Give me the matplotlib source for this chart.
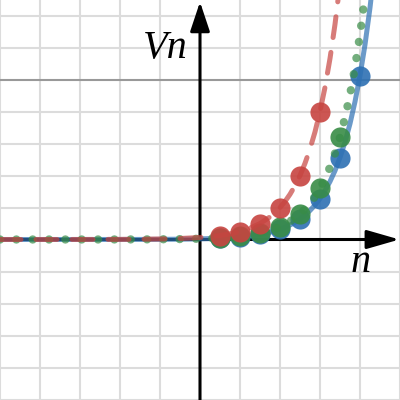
import matplotlib
matplotlib.use("Agg")
import matplotlib.pyplot as plt

# sequence terms (n, Vn)
n_blue = [1, 2, 3, 4, 5, 6, 7, 8]
v_blue = [0.64, 1.28, 2.56, 5.12, 10.24, 20.5, 41.0, 82.0]
n_green = [1, 2, 3, 4, 5, 6, 7]
v_green = [0.8, 1.6, 3.2, 6.4, 12.8, 25.6, 51.2]
n_red = [1, 2, 3, 4, 5, 6]
v_red = [2, 4, 8, 16, 32, 64]

# continuous curves, sampled along the x axis
x_curve = [-10, -6, -4, -3, -2, -1, 0, 0.5, 1, 1.5, 2, 2.5, 3, 3.5, 4, 4.25, 4.5,
           4.75, 5, 5.25, 5.5, 5.75, 6, 6.25, 6.5, 6.75, 7, 7.25, 7.5, 7.75, 8,
           8.25, 8.5, 8.75]
y_blue = [0.0003, 0.005, 0.02, 0.04, 0.08, 0.16, 0.32, 0.45, 0.64, 0.9, 1.28, 1.81,
          2.56, 3.62, 5.12, 6.09, 7.24, 8.61, 10.24, 12.2, 14.5, 17.2, 20.5, 24.4,
          29.0, 34.4, 41.0, 48.7, 57.9, 68.9, 81.9, 97.4, 115.9, 137.8]
y_green = [0.0004, 0.006, 0.025, 0.05, 0.1, 0.2, 0.4, 0.57, 0.8, 1.13, 1.6, 2.26,
           3.2, 4.5, 6.4, 7.6, 9.05, 10.8, 12.8, 15.2, 18.1, 21.5, 25.6, 30.4,
           36.2, 43.1, 51.2, 60.9, 72.4, 86.1, 102.4, 121.8, 144.8, 172.0]
y_red = [0.001, 0.016, 0.06, 0.13, 0.25, 0.5, 1, 1.41, 2, 2.83, 4, 5.66, 8, 11.3,
         16, 19.0, 22.6, 26.9, 32, 38.1, 45.3, 53.8, 64, 76.1, 90.5, 107.6, 128,
         152.2, 181.0, 215.3, 256.0, 304.4, 362.0, 430.5]

x_ticks = [-10, -8, -6, -4, -2, 2, 4, 6, 8, 10]
y_ticks = [-80, -64, -48, -32, -16, 16, 32, 48, 64, 96, 112]
y_major = [80]

BLUE = "#2d70b3"
GREEN = "#388c46"
RED = "#c74440"

fig = plt.figure(figsize=(4, 4), dpi=100)
ax = fig.add_axes([0, 0, 1, 1])
ax.set_xlim(-10, 10)
ax.set_ylim(-80.25, 119.75)
ax.axis("off")

for x in x_ticks:
    ax.axvline(x, color="#dcdcdc", lw=1.5, zorder=0)
for y in y_ticks:
    ax.axhline(y, color="#dcdcdc", lw=1.5, zorder=0)
for y in y_major:
    ax.axhline(y, color="#999999", lw=1.5, zorder=0)

# axes with arrow heads
ax.annotate("", xy=(9.97, 0), xytext=(-10.5, 0),
            arrowprops=dict(arrowstyle="-|>,head_length=0.4,head_width=0.115",
                            mutation_scale=50, lw=2.2, color="black",
                            shrinkA=0, shrinkB=0), zorder=1)
ax.annotate("", xy=(0, 118.8), xytext=(0, -85),
            arrowprops=dict(arrowstyle="-|>,head_length=0.36,head_width=0.12",
                            mutation_scale=50, lw=2.2, color="black",
                            shrinkA=0, shrinkB=0), zorder=1)

# blue: solid curve + points
ax.plot(x_curve, y_blue, color=BLUE, lw=3.6, alpha=0.7, solid_capstyle="round", zorder=2)
ax.plot(n_blue, v_blue, "o", color=BLUE, ms=14.5, mew=0, alpha=0.9, zorder=3)

# green: dotted curve + points
ax.plot(x_curve, y_green, color=GREEN, lw=6, alpha=0.7, dashes=(0.01, 1.95),
        dash_capstyle="round", zorder=4)
ax.plot(n_green, v_green, "o", color=GREEN, ms=14.5, mew=0, alpha=0.9, zorder=5)

# red: dashed curve + points
ax.plot(x_curve, y_red, color=RED, lw=3.6, alpha=0.7, dashes=(4.2, 3.0),
        dash_capstyle="round", zorder=6)
ax.plot(n_red, v_red, "o", color=RED, ms=14.5, mew=0, alpha=0.9, zorder=7)

ax.text(-0.6, 90.75, "Vn", fontsize=29, family="Liberation Serif", style="italic",
        ha="right", va="baseline", zorder=8)
ax.text(8.05, -16.25, "n", fontsize=29, family="Liberation Serif", style="italic",
        ha="center", va="baseline", zorder=8)

fig.savefig("out.png", dpi=100)
